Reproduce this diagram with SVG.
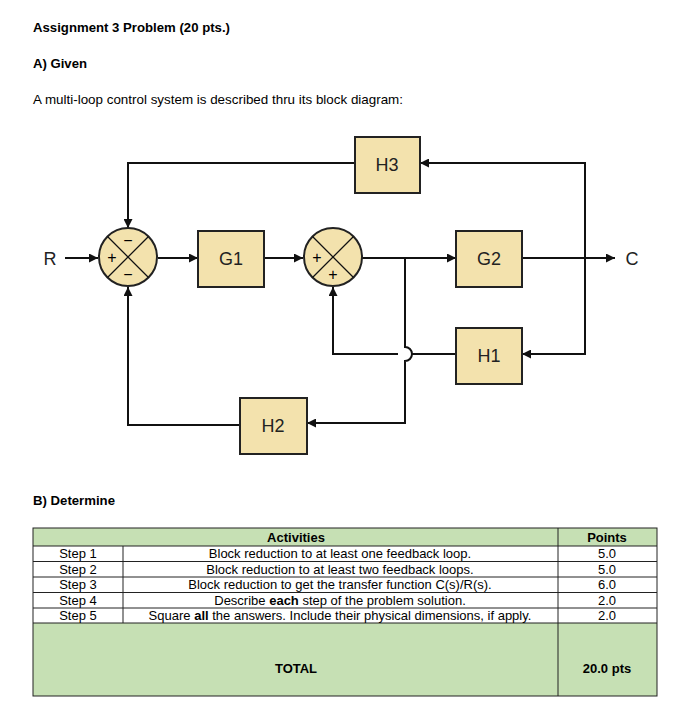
<svg xmlns="http://www.w3.org/2000/svg" width="688" height="707" viewBox="0 0 688 707">
<style>
text{font-family:"Liberation Sans",Arial,sans-serif;fill:#000}
.t{font-size:13px}
.b{font-weight:bold}
.blk{fill:#f3e2ad;stroke:#222;stroke-width:2}
.lbl{font-size:18px;text-anchor:middle;fill:#222}
.ln{fill:none;stroke:#111;stroke-width:2}
.x{stroke:#111;stroke-width:1.3}
.sg{font-size:16px;text-anchor:middle}
.cell{font-size:13px;text-anchor:middle}
</style>
<defs><marker id="a" viewBox="0 0 10 10" refX="10" refY="5" markerWidth="9" markerHeight="9" markerUnits="userSpaceOnUse" orient="auto"><path d="M0,0L10,5L0,10z" fill="#111"/></marker></defs>
<rect width="688" height="707" fill="#fff"/>
<text x="33" y="32" class="t b" textLength="197" lengthAdjust="spacingAndGlyphs">Assignment 3 Problem (20 pts.)</text>
<text x="33" y="68" class="t b" textLength="54" lengthAdjust="spacingAndGlyphs">A) Given</text>
<text x="33" y="104" class="t" textLength="370" lengthAdjust="spacingAndGlyphs">A multi-loop control system is described thru its block diagram:</text>
<text x="33" y="505" class="t b" textLength="82" lengthAdjust="spacingAndGlyphs">B) Determine</text>
<g id="connectors">
<path class="ln" marker-end="url(#a)" d="M65,258H98"/>
<path class="ln" marker-end="url(#a)" d="M158,258H198"/>
<path class="ln" marker-end="url(#a)" d="M264,258H303"/>
<path class="ln" marker-end="url(#a)" d="M362,258H456"/>
<path class="ln" marker-end="url(#a)" d="M522,258H615"/>
<path class="ln" marker-end="url(#a)" d="M585,258V163H420"/>
<path class="ln" marker-end="url(#a)" d="M355,163H128V228"/>
<path class="ln" marker-end="url(#a)" d="M585,258V354H522"/>
<path class="ln" marker-end="url(#a)" d="M456,354H412M398,354H333V287"/>
<path class="ln" marker-end="url(#a)" d="M405,258V347A7,7 0 0 1 405,361V423H307"/>
<path class="ln" marker-end="url(#a)" d="M240,425H128V287"/>
</g>
<text x="50" y="265" class="lbl">R</text>
<text x="632" y="265" class="lbl">C</text>
<g id="sum1"><circle cx="128" cy="257" r="29" class="blk"/><path class="x" d="M107.5,236.5L148.5,277.5M148.5,236.5L107.5,277.5"/><text x="112" y="263" class="sg">+</text><text x="128" y="246" class="sg">−</text><text x="128" y="280" class="sg">−</text></g>
<g id="sum2"><circle cx="333" cy="257" r="29" class="blk"/><path class="x" d="M312.5,236.5L353.5,277.5M353.5,236.5L312.5,277.5"/><text x="317" y="263" class="sg">+</text><text x="333" y="280" class="sg">+</text></g>
<g id="G1"><rect x="198" y="231" width="66" height="56" class="blk"/><text x="231" y="265" class="lbl">G1</text></g>
<g id="G2"><rect x="456" y="231" width="66" height="56" class="blk"/><text x="489" y="265" class="lbl">G2</text></g>
<g id="H3"><rect x="355" y="137" width="65" height="56" class="blk"/><text x="387" y="171" class="lbl">H3</text></g>
<g id="H1"><rect x="456" y="328" width="66" height="56" class="blk"/><text x="489" y="362" class="lbl">H1</text></g>
<g id="H2"><rect x="240" y="398" width="67" height="56" class="blk"/><text x="273" y="432" class="lbl">H2</text></g>
<g id="table">
<rect x="33" y="528" width="624" height="18" fill="#c6e0b4"/>
<rect x="33" y="623" width="624" height="73" fill="#c6e0b4"/>
<g stroke="#222" stroke-width="1" fill="none">
<rect x="33" y="528" width="624" height="168"/>
<path d="M33,546H657M33,561.5H657M33,577H657M33,592.5H657M33,608H657M33,623H657M558,528V696M123,546V623"/>
</g>
<text x="296" y="542" class="cell b">Activities</text><text x="607" y="542" class="cell b">Points</text>
<g class="cell">
<text x="78" y="558" class="cell">Step 1</text><text x="340" y="558" class="cell">Block reduction to at least one feedback loop.</text><text x="607" y="558" class="cell">5.0</text>
<text x="78" y="573.5" class="cell">Step 2</text><text x="340" y="573.5" class="cell">Block reduction to at least two feedback loops.</text><text x="607" y="573.5" class="cell">5.0</text>
<text x="78" y="589" class="cell">Step 3</text><text x="340" y="589" class="cell">Block reduction to get the transfer function C(s)/R(s).</text><text x="607" y="589" class="cell">6.0</text>
<text x="78" y="604.5" class="cell">Step 4</text><text x="340" y="604.5" class="cell">Describe <tspan font-weight="bold">each</tspan> step of the problem solution.</text><text x="607" y="604.5" class="cell">2.0</text>
<text x="78" y="620" class="cell">Step 5</text><text x="340" y="620" class="cell">Square <tspan font-weight="bold">all</tspan> the answers. Include their physical dimensions, if apply.</text><text x="607" y="620" class="cell">2.0</text>
</g>
<text x="296" y="673" class="cell b">TOTAL</text><text x="607" y="673" class="cell b">20.0 pts</text>
</g>
</svg>
